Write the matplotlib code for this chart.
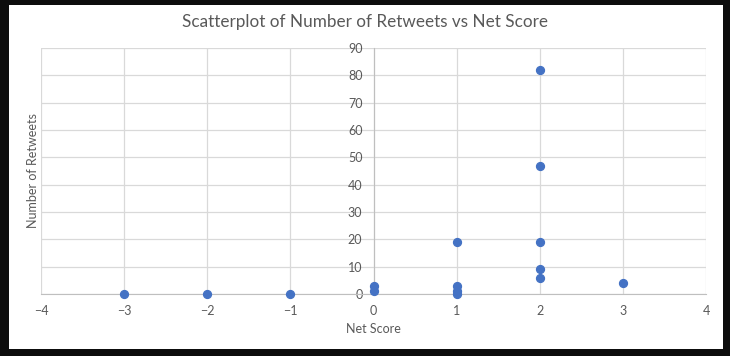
import numpy as np
import matplotlib.pyplot as plt
from matplotlib.patches import Rectangle

# net score vs number of retweets
net_score = [-3, -2, -1, 0, 0, 1, 1, 1, 1, 2, 2, 2, 2, 2, 3]
retweets  = [0, 0, 0, 3, 1, 19, 3, 1, 0, 82, 47, 19, 9, 6, 4]

x_ticks = list(range(-4, 5))
y_ticks = list(range(0, 91, 10))

grey_text = "#595959"
plt.rcParams['font.family'] = ['Lato', 'DejaVu Sans']

fig = plt.figure(figsize=(7.30, 3.56), dpi=100)
fig.patch.set_facecolor("#0d0d0d")
# white chart panel inside the dark frame
fig.patches.append(Rectangle((9/730, 7/356), 714/730, 344/356, transform=fig.transFigure,
                             facecolor="white", edgecolor="none", zorder=-10))

ax = fig.add_axes([41/730, 62/356, 665/730, 246/356])
ax.set_facecolor("white")
ax.scatter(net_score, retweets, s=32, color="#4472C4", zorder=3, clip_on=False)

ax.set_xlim(-4, 4)
ax.set_ylim(0, 90)
ax.set_xticks(x_ticks)
ax.set_yticks(y_ticks)
ax.grid(True, color="#d9d9d9", lw=0.9)
ax.set_axisbelow(True)

for s in ["top", "right"]:
    ax.spines[s].set_visible(False)
ax.spines["left"].set_position(("data", 0))
ax.spines["left"].set_color("#bfbfbf")
ax.spines["bottom"].set_color("#bfbfbf")
ax.tick_params(axis="both", length=0, labelsize=9, colors=grey_text)
ax.tick_params(axis="y", pad=8)
ax.tick_params(axis="x", pad=8)

fig.text(365/730, 1 - 22/356, "Scatterplot of Number of Retweets vs Net Score",
         ha="center", va="center", fontsize=12.3, color=grey_text)
fig.text(373.5/730, 1 - 329/356, "Net Score", ha="center", va="center",
         fontsize=9, color=grey_text)
fig.text(33/730, 1 - 171/356, "Number of Retweets", ha="center", va="center",
         rotation=90, fontsize=9, color=grey_text)

fig.savefig("out.png", dpi=100, facecolor=fig.get_facecolor())
